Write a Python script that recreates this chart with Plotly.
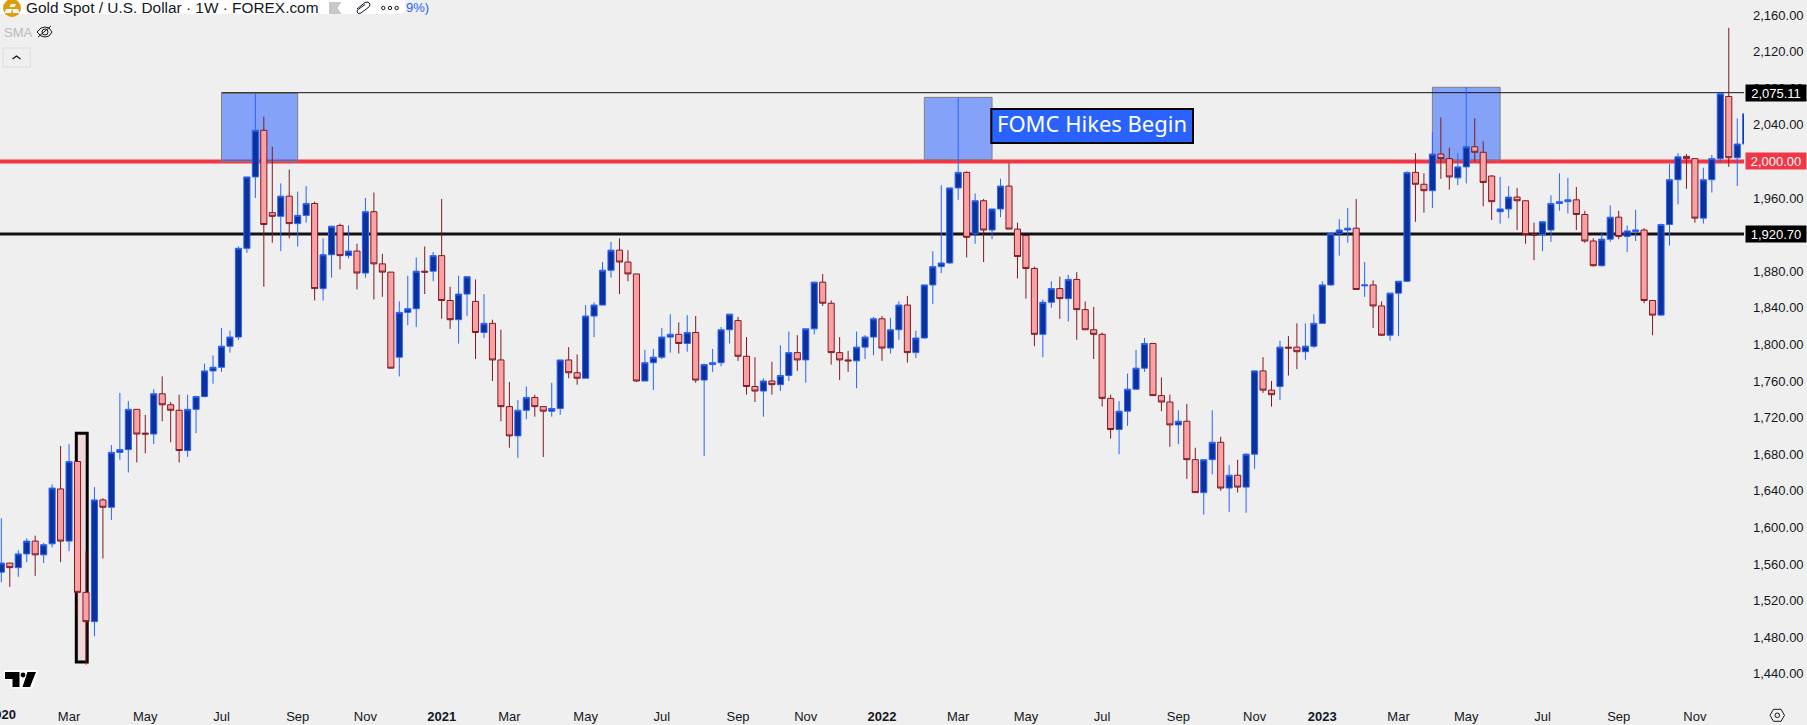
import pandas as pd
import plotly.graph_objects as go

# weekly bars, gold spot
weeks = pd.date_range("2020-01-06", periods=207, freq="7D")

opens = [
    1551, 1561, 1556, 1571, 1585, 1570, 1582, 1642, 1585, 1672,
    1529, 1497, 1630, 1622, 1682, 1685, 1729, 1703, 1702, 1746,
    1734, 1728, 1684, 1729, 1743, 1771, 1775, 1798, 1808, 1905,
    1983, 2034, 1944, 1940, 1962, 1932, 1941, 1954, 1861, 1898,
    1930, 1897, 1902, 1878, 1945, 1888, 1879, 1786, 1835, 1839,
    1880, 1880, 1897, 1848, 1827, 1855, 1847, 1813, 1823, 1783,
    1732, 1700, 1728, 1742, 1732, 1727, 1730, 1783, 1769, 1763,
    1831, 1843, 1881, 1903, 1890, 1877, 1760, 1780, 1786, 1808,
    1811, 1801, 1813, 1761, 1778, 1780, 1816, 1826, 1787, 1754,
    1749, 1760, 1756, 1766, 1791, 1783, 1817, 1868, 1845, 1791,
    1783, 1782, 1797, 1808, 1828, 1796, 1816, 1843, 1791, 1807,
    1865, 1885, 1889, 1971, 1988, 1921, 1957, 1925, 1948, 1973,
    1926, 1919, 1883, 1811, 1846, 1861, 1850, 1871, 1838, 1816,
    1811, 1741, 1707, 1727, 1751, 1774, 1801, 1744, 1737, 1712,
    1716, 1674, 1638, 1674, 1693, 1643, 1657, 1644, 1680, 1771,
    1750, 1754, 1797, 1797, 1792, 1798, 1823, 1865, 1921, 1925,
    1927, 1864, 1865, 1842, 1810, 1856, 1869, 1988, 1975, 1968,
    2008, 2003, 1982, 1994, 2016, 2010, 1984, 1945, 1948, 1961,
    1957, 1920.5, 1920, 1925, 1954, 1956, 1958, 1942, 1913, 1886,
    1915, 1939, 1918, 1923.5, 1925, 1848, 1832, 1931, 1980, 2005.5,
    2003, 1938, 1980, 2003, 2071, 2004, 2019,
]
highs = [
    1610, 1561, 1575, 1588, 1591, 1583, 1647, 1689, 1691, 1672,
    1574, 1644, 1632, 1690, 1747, 1738, 1729, 1723, 1751, 1765,
    1737, 1745, 1745, 1744, 1779, 1788, 1818, 1815, 1907, 1983,
    2074, 2049, 2016, 1976, 1991, 1967, 1973, 1956, 1916, 1930,
    1932, 1930, 1910, 1960, 1966, 1899, 1879, 1847, 1875, 1895,
    1907, 1901, 1959, 1863, 1875, 1874, 1871, 1855, 1827, 1816,
    1759, 1739, 1754, 1745, 1732, 1758, 1783, 1797, 1789, 1843,
    1846, 1890, 1912, 1916, 1903, 1877, 1794, 1795, 1818, 1833,
    1824, 1832, 1831, 1779, 1795, 1819, 1833, 1830, 1808, 1786,
    1763, 1781, 1799, 1814, 1810, 1817, 1868, 1877, 1848, 1808,
    1793, 1814, 1810, 1830, 1831, 1829, 1847, 1853, 1815, 1865,
    1902, 1974, 1971, 2070, 1989, 1965, 1959, 1948, 1981, 1998,
    1933, 1919, 1885, 1849, 1869, 1874, 1876, 1879, 1847, 1841,
    1813, 1745, 1738, 1768, 1794, 1807, 1801, 1764, 1745, 1728,
    1735, 1687, 1674, 1728, 1699, 1668, 1674, 1681, 1772, 1786,
    1760, 1804, 1809, 1823, 1823, 1833, 1869, 1922, 1937, 1949,
    1959, 1890, 1870, 1847, 1856, 1869, 1989, 2009, 1987, 2032,
    2048, 2015, 2009, 2081, 2047, 2022, 1985, 1983, 1973, 1971,
    1957, 1933, 1935, 1963, 1987, 1982, 1972, 1946, 1916, 1923,
    1952, 1946, 1930, 1947, 1927, 1848, 1932, 1997, 2009, 2008,
    2003, 1993, 2007, 2074, 2146, 2047, 2053,
]
lows = [
    1540, 1535, 1546, 1562, 1547, 1561, 1578, 1562, 1574, 1504,
    1450, 1481, 1566, 1608, 1674, 1660, 1671, 1681, 1691, 1716,
    1693, 1671, 1677, 1703, 1742, 1757, 1770, 1791, 1805, 1900,
    1960, 1863, 1911, 1902, 1916, 1907, 1933, 1848, 1848, 1873,
    1882, 1894, 1860, 1873, 1849, 1852, 1774, 1765, 1821, 1819,
    1855, 1869, 1828, 1817, 1801, 1831, 1784, 1807, 1760, 1716,
    1687, 1676, 1718, 1721, 1677, 1721, 1723, 1763, 1756, 1763,
    1808, 1843, 1873, 1855, 1869, 1759, 1760, 1750, 1784, 1791,
    1790, 1792, 1758, 1678, 1770, 1776, 1801, 1782, 1745, 1737,
    1721, 1745, 1749, 1760, 1771, 1758, 1811, 1842, 1778, 1761,
    1770, 1752, 1784, 1788, 1782, 1790, 1805, 1780, 1785, 1806,
    1844, 1878, 1888, 1958, 1895, 1910, 1890, 1915, 1939, 1926,
    1872, 1850, 1798, 1786, 1840, 1828, 1825, 1805, 1816, 1784,
    1732, 1697, 1680, 1711, 1751, 1770, 1744, 1727, 1688, 1691,
    1653, 1638, 1614, 1658, 1640, 1617, 1638, 1616, 1664, 1747,
    1732, 1739, 1766, 1773, 1783, 1796, 1823, 1864, 1897, 1911,
    1860, 1852, 1818, 1809, 1804, 1809, 1868, 1934, 1944, 1949,
    1981, 1969, 1974, 1976, 2000, 1951, 1936, 1932, 1938, 1925,
    1910, 1892, 1902, 1912, 1946, 1943, 1925, 1911, 1885, 1885,
    1912, 1915, 1901, 1913, 1845, 1810, 1831, 1908, 1953, 1970,
    1933, 1932, 1966, 1998, 1994, 1973, 2018,
]
closes = [
    1561, 1556, 1571, 1585, 1570, 1581, 1643, 1585, 1672, 1529,
    1497, 1630, 1622, 1682, 1685, 1729, 1702, 1702, 1746, 1734,
    1728, 1684, 1729, 1743, 1771, 1775, 1798, 1808, 1905, 1983,
    2034, 1931, 1940, 1962, 1932, 1941, 1954, 1861, 1898, 1929,
    1897, 1902, 1878, 1945, 1888, 1879, 1774, 1835, 1839, 1880,
    1879, 1897, 1848, 1827, 1855, 1874, 1813, 1823, 1783, 1732,
    1700, 1728, 1742, 1732, 1727, 1730, 1783, 1769, 1763, 1831,
    1843, 1881, 1903, 1890, 1877, 1760, 1780, 1786, 1808, 1811,
    1801, 1813, 1761, 1778, 1780, 1816, 1833, 1787, 1754, 1749,
    1760, 1756, 1766, 1791, 1783, 1817, 1868, 1845, 1791, 1783,
    1782, 1797, 1808, 1828, 1796, 1816, 1843, 1791, 1807, 1865,
    1885, 1889, 1971, 1988, 1917, 1957, 1925, 1948, 1973, 1926,
    1896, 1883, 1811, 1846, 1861, 1850, 1871, 1838, 1816, 1811,
    1741, 1707, 1727, 1751, 1774, 1801, 1744, 1737, 1712, 1716,
    1674, 1638, 1674, 1693, 1643, 1657, 1644, 1680, 1771, 1750,
    1745, 1797, 1796, 1792, 1798, 1823, 1865, 1921, 1925, 1927,
    1860, 1865, 1842, 1810, 1856, 1869, 1988, 1975, 1968, 2008,
    2003, 1983, 1994, 2016, 2010, 1977, 1956, 1948, 1961, 1957,
    1920, 1919.5, 1934, 1954, 1956, 1958, 1942, 1913, 1886, 1915,
    1939, 1918, 1924, 1925, 1848, 1832, 1931, 1980, 2005, 2003,
    1938, 1980, 2003, 2074, 2004, 2019, 2052,
]

# the 2020 label sits half off the page, so it goes in as an annotation below
x_tickvals = [
    "2020-03-02", "2020-05-04", "2020-07-06", "2020-09-07", "2020-11-02",
    "2021-01-04", "2021-03-01", "2021-05-03", "2021-07-05", "2021-09-06", "2021-11-01",
    "2022-01-03", "2022-03-07", "2022-05-02", "2022-07-04", "2022-09-05", "2022-11-07",
    "2023-01-02", "2023-03-06", "2023-05-01", "2023-07-03", "2023-09-04", "2023-11-06",
]
x_ticktext = [
    "Mar", "May", "Jul", "Sep", "Nov",
    "<b>2021</b>", "Mar", "May", "Jul", "Sep", "Nov",
    "<b>2022</b>", "Mar", "May", "Jul", "Sep", "Nov",
    "<b>2023</b>", "Mar", "May", "Jul", "Sep", "Nov",
]
y_tickvals = list(range(1440, 2161, 40))

# levels and drawn zones
level_2000 = 2000
level_1920 = 1920.70
level_2075 = 2075.11
zones = [
    ("2020-07-06", "2020-09-07", 2000, 2074.3),
    ("2022-02-07", "2022-04-04", 2002, 2070),
    ("2023-04-03", "2023-05-29", 2001.5, 2081),
]

W, H = 1807, 725
PLOT_W, PLOT_H = 1744, 695
BG = "#efefef"
INK = "#131722"
FONT = "Liberation Sans"


def px(x):
    return x / PLOT_W


def py(y):
    return 1 - y / PLOT_H


def path_px(points, close=True):
    s = "M" + " L".join(f"{px(a):.5f},{py(b):.5f}" for a, b in points)
    return s + (" Z" if close else "")


def circle_px(cx, cy, r, **kw):
    return dict(type="circle", xref="paper", yref="paper", x0=px(cx - r), x1=px(cx + r),
                y0=py(cy + r), y1=py(cy - r), layer="above", **kw)


fig = go.Figure(go.Candlestick(
    x=weeks, open=opens, high=highs, low=lows, close=closes,
    increasing=dict(line=dict(color="#2962ff", width=1), fillcolor="#0c3299"),
    decreasing=dict(line=dict(color="#801922", width=1), fillcolor="#faa1a4"),
    whiskerwidth=0, showlegend=False, hoverinfo="skip",
))

shapes = []

# zones under the candles
for x0, x1, y0, y1 in zones:
    shapes.append(dict(type="rect", xref="x", yref="y", x0=x0, x1=x1, y0=y0, y1=y1, layer="below",
                       fillcolor="rgba(41,98,255,0.54)", line=dict(color="#808080", width=1)))

# march 2020 highlight
shapes.append(dict(type="rect", xref="x", yref="y", x0="2020-03-08", x1="2020-03-17", y0=1452.8, y1=1703,
                   layer="below", fillcolor="rgba(242,54,69,0.13)", line=dict(color="#000000", width=3)))

shapes.append(dict(type="line", xref="paper", yref="y", x0=0, x1=1, y0=level_2000, y1=level_2000,
                   layer="below", line=dict(color="#f23645", width=4)))
shapes.append(dict(type="line", xref="paper", yref="y", x0=0, x1=1, y0=level_1920, y1=level_1920,
                   layer="below", line=dict(color="#131313", width=3)))
shapes.append(dict(type="line", xref="x", yref="y", x0="2020-07-06", x1="2023-12-17", y0=level_2075, y1=level_2075,
                   layer="below", line=dict(color="#131313", width=1)))

# fomc callout box, text added with the annotations
shapes.append(dict(type="path", xref="paper", yref="paper", layer="above", fillcolor="#2962ff",
                   line=dict(color="#000000", width=2),
                   path=path_px([(991.3, 109), (1193, 109), (1193, 143), (991.3, 143)])))

# header panel and its icons
shapes.append(dict(type="path", xref="paper", yref="paper", layer="above", fillcolor="#ffffff", line=dict(width=0),
                   path=path_px([(0, -2), (405, -2), (405, 11), (402, 14), (0, 14)])))
shapes.append(circle_px(12, 8, 9, fillcolor="#dd9d0c", line=dict(width=0)))
for pts in ([(9.5, 7), (14.5, 7), (16, 4), (11, 4)], [(4.5, 13), (11, 13), (12, 9), (6, 9)], [(13, 13), (19.5, 13), (18, 9), (12.5, 9)]):
    shapes.append(dict(type="path", xref="paper", yref="paper", layer="above", fillcolor="#ffffff",
                       line=dict(width=0), path=path_px(pts)))
shapes.append(dict(type="path", xref="paper", yref="paper", layer="above", fillcolor="#c8c8c8", line=dict(width=0),
                   path=path_px([(329, 2), (341.5, 2), (337.5, 8), (341.5, 14), (329, 14)])))
shapes.append(dict(type="path", xref="paper", yref="paper", layer="above", fillcolor="rgba(0,0,0,0)",
                   line=dict(color=INK, width=1),
                   path=path_px([(357, 9), (365, 2.5), (368, 2), (370, 4), (369.5, 6.5), (361, 13), (358.5, 13.5), (357, 12), (357.5, 10), (365, 4.5)], close=False)))
for cx in (383.3, 390, 396.7):
    shapes.append(circle_px(cx, 8, 1.7, fillcolor="rgba(0,0,0,0)", line=dict(color=INK, width=1)))

# eye icon
shapes.append(dict(type="path", xref="paper", yref="paper", layer="above", fillcolor="rgba(0,0,0,0)",
                   line=dict(color=INK, width=1),
                   path=path_px([(37, 32), (41, 28), (45, 27), (49, 28), (52, 32), (49, 36), (45, 37), (41, 36)])))
shapes.append(circle_px(45, 32, 3, fillcolor="rgba(0,0,0,0)", line=dict(color=INK, width=1)))
shapes.append(dict(type="path", xref="paper", yref="paper", layer="above", line=dict(color=INK, width=1),
                   path=path_px([(38, 37), (51, 26)], close=False)))

# collapse button
shapes.append(dict(type="path", xref="paper", yref="paper", layer="above", fillcolor="rgba(0,0,0,0)",
                   line=dict(color="#dcdcdc", width=1),
                   path=path_px([(3, 48), (30, 48), (30.5, 67), (3, 67)])))
shapes.append(dict(type="path", xref="paper", yref="paper", layer="above", line=dict(color=INK, width=1.3),
                   path=path_px([(12.5, 59), (16.5, 56), (20.5, 59)], close=False)))

# logo
shapes.append(dict(type="path", xref="paper", yref="paper", layer="above", fillcolor="#ffffff", line=dict(width=0),
                   path=path_px([(4, 670), (38.5, 670), (33, 688.5), (10, 688.5), (10, 680), (4, 680)])))
shapes.append(dict(type="path", xref="paper", yref="paper", layer="above", fillcolor="#000000", line=dict(width=0),
                   path=path_px([(5, 672), (19.5, 672), (19.5, 687), (12.5, 687), (12.5, 679), (5, 679)])))
shapes.append(circle_px(23, 675, 2.4, fillcolor="#000000", line=dict(width=0)))
shapes.append(dict(type="path", xref="paper", yref="paper", layer="above", fillcolor="#000000", line=dict(width=0),
                   path=path_px([(27.5, 672), (36, 672), (30, 687), (22.5, 687)])))

# settings hexagon
shapes.append(dict(type="path", xref="paper", yref="paper", layer="above", fillcolor="rgba(0,0,0,0)",
                   line=dict(color=INK, width=1),
                   path=path_px([(1770, 715.3), (1773.5, 709.3), (1781, 709.3), (1784.5, 715.3), (1781, 721.3), (1773.5, 721.3)])))
shapes.append(circle_px(1777.3, 715.3, 2.3, fillcolor="rgba(0,0,0,0)", line=dict(color=INK, width=1)))

annotations = []


def text_px(x, y, text, size, color, anchor="left", family=FONT):
    annotations.append(dict(xref="paper", yref="paper", x=px(x), y=py(y), text=text, showarrow=False,
                            xanchor=anchor, yanchor="middle", font=dict(family=family, size=size, color=color),
                            borderpad=0))


text_px(25, 8, "Gold Spot / U.S. Dollar · 1W · FOREX.com", 15.4, INK)
text_px(405, 8, "9%)", 13, "#2962ff")
text_px(3, 33, "SMA", 13, "#b8bbc2")
text_px(1.3, 714.5, "<b>2020</b>", 13, INK, anchor="center")
text_px(1092.3, 123, "FOMC Hikes Begin", 22, "#ffffff", anchor="center", family="Noto Sans")

# price labels on the scale
for price, label, bg in [(level_2075, "2,075.11", "#000000"), (level_2000, "2,000.00", "#f23645"), (level_1920, "1,920.70", "#000000")]:
    annotations.append(dict(xref="paper", yref="y", x=px(1745), y=price, text=label, showarrow=False,
                            xanchor="left", yanchor="middle", width=60, height=16, align="center", valign="middle",
                            bgcolor=bg, borderpad=0, font=dict(family=FONT, size=13, color="#ffffff")))

fig.update_layout(
    width=W, height=H,
    margin=dict(l=0, r=W - PLOT_W, t=0, b=H - PLOT_H, pad=0),
    paper_bgcolor=BG, plot_bgcolor=BG,
    font=dict(family=FONT, size=13, color=INK),
    boxgap=0.28, boxgroupgap=0,
    shapes=shapes, annotations=annotations,
    xaxis=dict(type="date", range=["2020-01-04 22:00", "2023-12-16 14:00"], rangeslider=dict(visible=False),
               tickmode="array", tickvals=x_tickvals, ticktext=x_ticktext, showgrid=False, zeroline=False,
               ticks="", showline=False, ticklabelstandoff=12, tickangle=0, fixedrange=True),
    yaxis=dict(range=[1416.8, 2176.4], side="right", tickmode="array", tickvals=y_tickvals,
               tickformat=",.2f", showgrid=False, zeroline=False, ticks="", showline=False,
               ticklabelstandoff=8, fixedrange=True),
)

fig.write_html("out.html", config=dict(displayModeBar=False),
               post_script="document.body.style.margin='0';document.body.style.overflow='hidden';")
